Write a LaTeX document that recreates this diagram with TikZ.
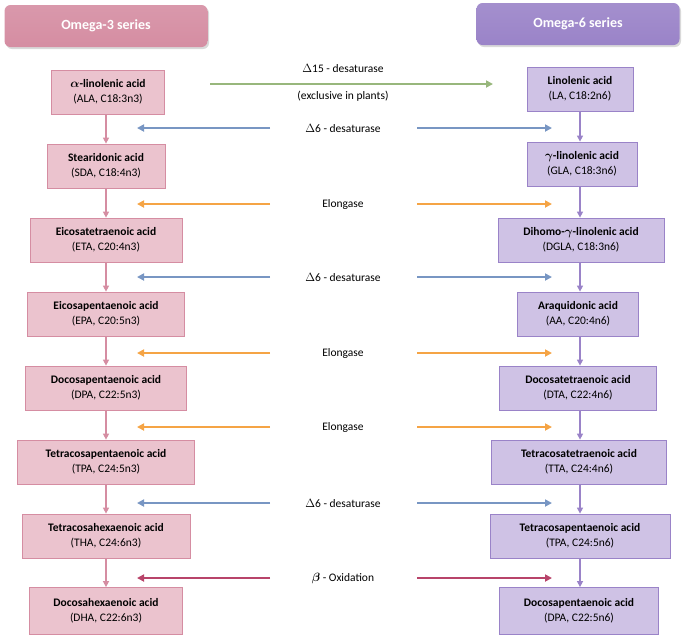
\documentclass[tikz,border=0pt]{standalone}
\usepackage{amsmath}
\usepackage{fontspec}
\setmainfont{Carlito}
\usetikzlibrary{arrows.meta,shadows}
\definecolor{pinkfill}{HTML}{EBC3CE}
\definecolor{pinkdraw}{HTML}{D58DA2}
\definecolor{purpfill}{HTML}{CFC2E5}
\definecolor{purpdraw}{HTML}{9A83C8}
\definecolor{blu}{HTML}{7896C3}
\definecolor{ora}{HTML}{F5A445}
\definecolor{grn}{HTML}{98B77C}
\definecolor{beta}{HTML}{B8446A}
\tikzset{
 L/.style={draw=pinkdraw,fill=pinkfill,line width=0.8pt,align=center,inner sep=0pt,minimum height=44pt,font=\fontsize{11.5}{15}\selectfont},
 R/.style={draw=purpdraw,fill=purpfill,line width=0.8pt,align=center,inner sep=0pt,minimum height=44pt,font=\fontsize{11.5}{15}\selectfont},
 hdr/.style={rounded corners=6pt,minimum width=203pt,minimum height=42pt,text=white,font=\fontsize{14}{16}\selectfont\bfseries,drop shadow={shadow xshift=1.5pt,shadow yshift=-2pt,opacity=0.3}},
 lv/.style={draw=pinkdraw,line width=1.4pt,-{Triangle[length=6pt,width=6pt]}},
 rv/.style={draw=purpdraw,line width=1.4pt,-{Triangle[length=6pt,width=6pt]}},
 ha/.style={line width=2pt,-{Triangle[length=7pt,width=7pt]}},
 lab/.style={font=\fontsize{11.5}{14}\selectfont}
}
\begin{document}
\begin{tikzpicture}[x=1pt,y=-1pt]
\useasboundingbox (0,0) rectangle (685,641);
\node[hdr,top color=pinkdraw!90,bottom color=pinkdraw] (h3) at (106,26) {Omega-3 series};
\node[hdr,top color=purpdraw!90,bottom color=purpdraw] (h6) at (578,24) {Omega-6 series};

\node[L,minimum width=113pt] (l1) at (108,92) {\textbf{$\boldsymbol{\alpha}$-linolenic acid}\\(ALA, C18:3n3)};
\node[L,minimum width=118pt] (l2) at (106,166) {\textbf{Stearidonic acid}\\(SDA, C18:4n3)};
\node[L,minimum width=152pt] (l3) at (106,240) {\textbf{Eicosatetraenoic acid}\\(ETA, C20:4n3)};
\node[L,minimum width=157pt] (l4) at (106,314) {\textbf{Eicosapentaenoic acid}\\(EPA, C20:5n3)};
\node[L,minimum width=161pt] (l5) at (106,388) {\textbf{Docosapentaenoic acid}\\(DPA, C22:5n3)};
\node[L,minimum width=177pt] (l6) at (106,462) {\textbf{Tetracosapentaenoic acid}\\(TPA, C24:5n3)};
\node[L,minimum width=168pt] (l7) at (106,536) {\textbf{Tetracosahexaenoic acid}\\(THA, C24:6n3)};
\node[L,minimum width=153pt,minimum height=47pt] (l8) at (106,611) {\textbf{Docosahexaenoic acid}\\(DHA, C22:6n3)};

\node[R,minimum width=106pt] (r1) at (580,89) {\textbf{Linolenic acid}\\(LA, C18:2n6)};
\node[R,minimum width=110pt] (r2) at (582,164) {\textbf{$\boldsymbol{\gamma}$-linolenic acid}\\(GLA, C18:3n6)};
\node[R,minimum width=166pt] (r3) at (581,240) {\textbf{Dihomo-$\boldsymbol{\gamma}$-linolenic acid}\\(DGLA, C18:3n6)};
\node[R,minimum width=121pt] (r4) at (578,314) {\textbf{Araquidonic acid}\\(AA, C20:4n6)};
\node[R,minimum width=157pt] (r5) at (578,388) {\textbf{Docosatetraenoic acid}\\(DTA, C22:4n6)};
\node[R,minimum width=175pt] (r6) at (579,462) {\textbf{Tetracosatetraenoic acid}\\(TTA, C24:4n6)};
\node[R,minimum width=180pt] (r7) at (580,536) {\textbf{Tetracosapentaenoic acid}\\(TPA, C24:5n6)};
\node[R,minimum width=159pt,minimum height=47pt] (r8) at (579,611) {\textbf{Docosapentaenoic acid}\\(DPA, C22:5n6)};

\foreach \a/\b in {1/2,2/3,3/4,4/5,5/6,6/7,7/8}{
 \draw[lv] (l\a.south-|106,0) -- (l\b.north-|106,0);
 \draw[rv] (r\a.south-|580,0) -- (r\b.north-|580,0);
}

\coordinate (g1) at (210,84); \coordinate (g2) at (493,84);
\draw[ha,grn] (g1) -- (g2);
\node[lab] (t0) at (343,68) {$\Delta$15 - desaturase};
\node[lab] (t0b) at (343,96) {(exclusive in plants)};

\foreach \y/\txt/\c/\n in {128/{$\Delta$6 - desaturase}/blu/1, 204/Elongase/ora/2, 277/{$\Delta$6 - desaturase}/blu/3, 353/Elongase/ora/4, 427/Elongase/ora/5, 503/{$\Delta$6 - desaturase}/blu/6}{
 \node[lab] (m\n) at (343,\y) {\txt};
 \coordinate (a\n) at (137,\y); \coordinate (b\n) at (552,\y);
 \draw[ha,\c] (270,\y) coordinate (s\n) -- (a\n);
 \draw[ha,\c] (417,\y) coordinate (e\n) -- (b\n);
}
\node[lab] (m7) at (343,578) {$\boldsymbol{\beta}$ - Oxidation};
\coordinate (a7) at (137,578); \coordinate (b7) at (552,578);
\draw[ha,beta,line width=2.6pt] (270,578) -- (a7);
\draw[ha,beta,line width=2.6pt] (417,578) -- (b7);
\end{tikzpicture}
\end{document}
